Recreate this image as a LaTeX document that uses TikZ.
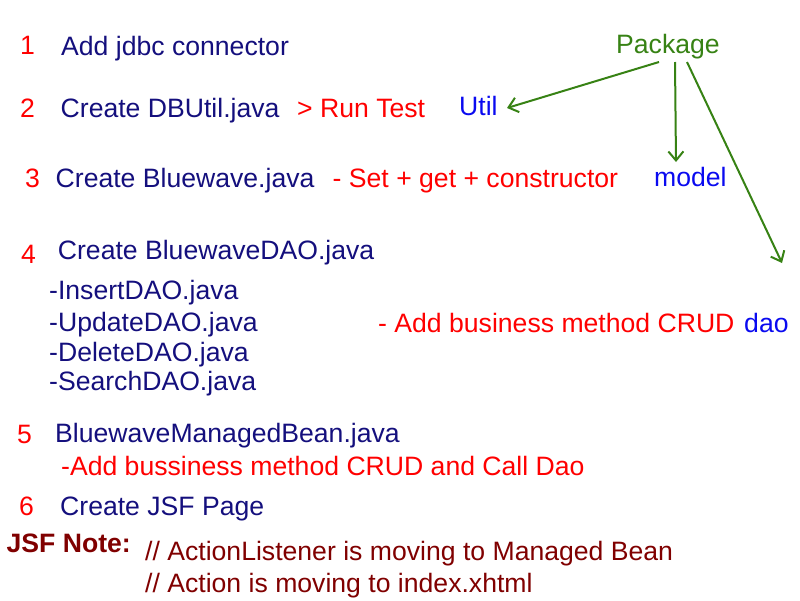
\documentclass[tikz,border=0pt]{standalone}
\usepackage{fontspec}
\setmainfont{Liberation Sans}
\usetikzlibrary{arrows.meta}
\definecolor{navytxt}{RGB}{20,15,125}
\definecolor{redtxt}{RGB}{255,0,0}
\definecolor{bluetxt}{RGB}{10,10,240}
\definecolor{greentxt}{RGB}{55,130,20}
\definecolor{darkredtxt}{RGB}{128,0,0}
\tikzset{
  txt/.style={anchor=base west, inner sep=0pt, font=\fontsize{26.6}{30}\selectfont},
  num/.style={txt, text=redtxt},
  navy/.style={txt, text=navytxt},
  note/.style={txt, text=redtxt},
  pkg/.style={txt, text=bluetxt},
  dred/.style={txt, text=darkredtxt},
  pkgarrow/.style={draw=greentxt, line width=2pt, -{Straight Barb[length=9pt,width=15pt,line width=2pt]}}
}
\begin{document}
\begin{tikzpicture}[x=1pt,y=-1pt]
\useasboundingbox (0,0) rectangle (800,600);
% step 1
\node[num]  (n1) at (20,54) {1};
\node[navy] (s1) at (61,55) {Add jdbc connector};
% step 2
\node[num]  (n2) at (20,117) {2};
\node[navy] (s2) at (60.5,117) {Create DBUtil.java};
\node[note] (r2) at (297,117) {> Run Test};
% step 3
\node[num]  (n3) at (25,187) {3};
\node[navy] (s3) at (55.5,187) {Create Bluewave.java};
\node[note] (r3) at (332.5,187) {- Set + get + constructor};
% step 4
\node[num]  (n4) at (21,263) {4};
\node[navy] (s4) at (57.7,259) {Create BluewaveDAO.java};
\node[navy] (d1) at (49,299.5) {-InsertDAO.java};
\node[navy] (d2) at (49,331) {-UpdateDAO.java};
\node[navy] (d3) at (49,361) {-DeleteDAO.java};
\node[navy] (d4) at (49,390.5) {-SearchDAO.java};
\node[note] (r4) at (378,332) {- Add business method CRUD};
% step 5
\node[num]  (n5) at (17,443) {5};
\node[navy] (s5) at (55,442) {BluewaveManagedBean.java};
\node[note] (r5) at (61,475) {-Add bussiness method CRUD and Call Dao};
% step 6
\node[num]  (n6) at (19,515) {6};
\node[navy] (s6) at (60,515) {Create JSF Page};
% JSF note
\node[dred, font=\fontsize{26.6}{30}\selectfont\bfseries] (jn) at (6.5,552) {JSF Note:};
\node[dred] (c1) at (145,560) {// ActionListener is moving to Managed Bean};
\node[dred] (c2) at (145,592) {// Action is moving to index.xhtml};
% packages
\node[txt, text=greentxt] (pk) at (616,53) {Package};
\node[pkg] (util) at (459,115) {Util};
\node[pkg] (model) at (654,186) {model};
\node[pkg] (dao) at (744,332) {dao};
\coordinate (pa) at (659,62);
\coordinate (pb) at (675,62);
\coordinate (pc) at (687,62);
\coordinate (ua) at (507,108);
\coordinate (ma) at (676,162);
\coordinate (da) at (782,263);
\draw[pkgarrow] (pa) -- (ua);
\draw[pkgarrow] (pb) -- (ma);
\draw[pkgarrow] (pc) -- (da);
\end{tikzpicture}
\end{document}
